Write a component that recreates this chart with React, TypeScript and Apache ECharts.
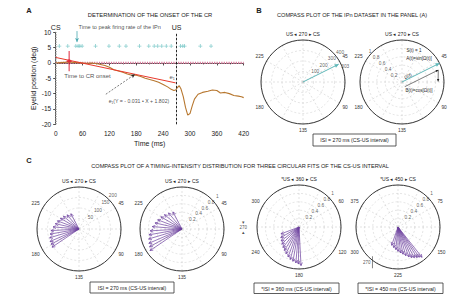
import React, { useEffect, useRef } from "react";
import * as echarts from "echarts";

const FONT = "'Liberation Sans', Arial, Helvetica, sans-serif";

// ---------------- Panel A data ----------------
const timeMin = 0;
const timeMax = 420;
const timeStep = 60;
const degMin = -20;
const degMax = 10;
const degStep = 5;
const csTime = 0;
const usTime = 270;
const eyelidTrace: [number, number][] = [
  [0, 0], [10, 0.1], [20, 0.2], [30, 0.3], [40, 0.2], [50, 0.1], [60, 0], [70, -0.1], [80, 0], [90, -0.2],
  [100, -0.5], [110, -0.8], [120, -1.4], [130, -2.2], [140, -2.6], [150, -3.0], [160, -3.6], [170, -4.0], [180, -4.0], [190, -4.4],
  [200, -5.0], [210, -5.4], [220, -5.8], [230, -6.3], [240, -7.0], [250, -7.8], [258, -8.6], [264, -9.0], [268, -8.8], [272, -8.0],
  [276, -7.4], [280, -8.5], [285, -11], [290, -14.5], [295, -17], [300, -16.5], [305, -14], [310, -11.8], [318, -10.2], [328, -9.6],
  [340, -9.2], [350, -8.8], [360, -9.0], [368, -9.8], [378, -9.6], [388, -10.0], [398, -10.6], [408, -10.8], [415, -11.0], [420, -11.3],
];
const ipnPeakTimes = [8, 27, 45, 50, 54, 59, 89, 119, 142, 157, 187, 208, 220, 228, 237, 247, 258, 279, 284, 288, 323, 347];
const ipnRowLevel = 5.5;
const baselineLevel = 0;
const fitLine: [number, number][] = [[0, 1.8], [268, -6.5]];
const crOnsetTime = 30;
const crOnsetLevel = 0.55;
const crOnsetRange = [-2.7, 3.9];
const crOnsetTimeRange = [24, 36];
const meanPeakTime = 47.6;

// ---------------- Compass data ----------------
const ringsB = [100, 200, 300, 400];
const ringsC1 = [50, 100, 150, 200];
const ringsNorm = [0.2, 0.4, 0.6, 0.8, 1];
const meanVectorRaw = 380;
const meanVectorNorm = 1;
const responseTimes = [177, 181, 185, 190, 195, 200, 206, 212, 218, 225, 232, 240, 249];
const responseRaw = [155, 152, 150, 146, 140, 134, 124, 116, 110, 102, 96, 88, 82];
const responseNorm = [0.92, 0.88, 0.86, 0.83, 0.8, 0.76, 0.71, 0.66, 0.62, 0.58, 0.54, 0.5, 0.46];
const decompositionSegments: [number, number, number, number][] = [
  [0.13, 110, 0.91, 53.8],
  [0.91, 53.8, 0.86, 67],
];

const R = 42;
const compasses = [
  { center: [303, 82], isi: 270, rMax: 400, rings: ringsB, labelAt: 39, labelOffset: [4, -4], star: false },
  { center: [402, 82], isi: 270, rMax: 1, rings: ringsNorm, labelAt: 236, labelOffset: [-2, -1], star: false },
  { center: [79, 229], isi: 270, rMax: 200, rings: ringsC1, labelAt: 34, labelOffset: [4, -4], star: false },
  { center: [182, 229], isi: 270, rMax: 1, rings: ringsNorm, labelAt: 36, labelOffset: [4, -4], star: false },
  { center: [299, 227], isi: 360, rMax: 1, rings: ringsNorm, labelAt: 45, labelOffset: [4, -4], star: true },
  { center: [398, 227], isi: 450, rMax: 1, rings: ringsNorm, labelAt: 56.25, labelOffset: [4, -4], star: true },
];

function arrowRenderer(color: string, lineWidth: number, headLen: number, filled: boolean) {
  return (_params: any, api: any) => {
    const p0 = api.coord([api.value(0), api.value(1)]);
    const p1 = api.coord([api.value(2), api.value(3)]);
    const dx = p1[0] - p0[0];
    const dy = p1[1] - p0[1];
    const len = Math.hypot(dx, dy) || 1;
    const ux = dx / len;
    const uy = dy / len;
    const bx = p1[0] - ux * headLen;
    const by = p1[1] - uy * headLen;
    const hw = headLen * 0.5;
    const l = [bx - uy * hw, by + ux * hw];
    const r = [bx + uy * hw, by - ux * hw];
    const children: any[] = [
      { type: "line", shape: { x1: p0[0], y1: p0[1], x2: p1[0], y2: p1[1] }, style: { stroke: color, lineWidth } },
    ];
    if (api.value(4) > 0) {
      children.push(
        filled
          ? { type: "polygon", shape: { points: [p1, l, r] }, style: { fill: color } }
          : { type: "polyline", shape: { points: [l, p1, r] }, style: { stroke: color, lineWidth, fill: "none" } }
      );
    }
    return { type: "group", children };
  };
}

function textEl(x: number, y: number, text: string, size: number, extra: any = {}) {
  const { rotation, ...style } = extra;
  return {
    type: "text",
    x,
    y,
    rotation: rotation || 0,
    silent: true,
    style: { text, fontSize: size, fontFamily: FONT, fill: "#222", align: "center", verticalAlign: "middle", ...style },
  };
}

function boxEl(x: number, y: number, w: number, h: number, text: string) {
  return [
    { type: "rect", shape: { x, y, width: w, height: h }, style: { fill: "#fff", stroke: "#333", lineWidth: 0.8 }, silent: true },
    textEl(x + w / 2, y + h / 2 + 0.3, text, 5.2),
  ];
}

function annotation(value: [number, number], text: string, size: number) {
  return {
    type: "scatter",
    xAxisIndex: 0,
    yAxisIndex: 0,
    clip: false,
    silent: true,
    symbolSize: 1,
    itemStyle: { color: "rgba(0,0,0,0)" },
    data: [{ value, name: text }],
    label: { show: true, position: "inside", formatter: "{b}", fontSize: size, color: "#222", fontFamily: FONT },
  };
}

function buildOption() {
  const series: any[] = [];

  // ---- Panel A ----
  series.push({
    type: "line",
    xAxisIndex: 0,
    yAxisIndex: 0,
    silent: true,
    symbol: "none",
    data: [[timeMin, baselineLevel], [timeMax, baselineLevel]],
    lineStyle: { color: "#d9789a", width: 2.2, type: [1.2, 1.2] },
    markLine: {
      silent: true,
      symbol: ["none", "none"],
      data: [
        {
          xAxis: csTime,
          lineStyle: { color: "#9a9a9a", type: [1.2, 1.2], width: 1.5 },
          label: { formatter: "CS", position: "end", fontSize: 7, color: "#222", distance: 1, fontFamily: FONT },
        },
        {
          xAxis: usTime,
          lineStyle: { color: "#111", type: [2.5, 1.5], width: 0.9 },
          label: { formatter: "US", position: "end", fontSize: 7, color: "#222", distance: 1, fontFamily: FONT },
        },
      ],
    },
  });
  series.push({
    type: "scatter",
    xAxisIndex: 0,
    yAxisIndex: 0,
    silent: true,
    symbol: "path://M4,0 L6,0 L6,4 L10,4 L10,6 L6,6 L6,10 L4,10 L4,6 L0,6 L0,4 L4,4 Z",
    symbolSize: 4,
    itemStyle: { color: "#6cc2c2" },
    data: ipnPeakTimes.map((t) => [t, ipnRowLevel]),
  });
  series.push({
    type: "line",
    xAxisIndex: 0,
    yAxisIndex: 0,
    silent: true,
    symbol: "none",
    data: eyelidTrace,
    lineStyle: { color: "#b7772f", width: 1.1 },
  });
  series.push({
    type: "line",
    xAxisIndex: 0,
    yAxisIndex: 0,
    silent: true,
    symbol: "none",
    data: fitLine,
    lineStyle: { color: "#e8392c", width: 1 },
  });
  series.push({
    type: "line",
    xAxisIndex: 0,
    yAxisIndex: 0,
    silent: true,
    symbol: "none",
    data: [[crOnsetTime, crOnsetRange[0]], [crOnsetTime, crOnsetRange[1]]],
    lineStyle: { color: "#e0263a", width: 1 },
  });
  series.push({
    type: "line",
    xAxisIndex: 0,
    yAxisIndex: 0,
    silent: true,
    symbol: "none",
    data: [[crOnsetTimeRange[0], crOnsetLevel], [crOnsetTimeRange[1], crOnsetLevel]],
    lineStyle: { color: "#e0263a", width: 1 },
  });
  series.push({
    type: "scatter",
    xAxisIndex: 0,
    yAxisIndex: 0,
    silent: true,
    symbolSize: 4,
    itemStyle: { color: "#e0263a" },
    data: [[crOnsetTime, crOnsetLevel]],
  });
  // arrow to the peak firing marks
  series.push({
    type: "line",
    xAxisIndex: 0,
    yAxisIndex: 0,
    silent: true,
    clip: false,
    data: [
      { value: [meanPeakTime, 10.4], symbol: "none" },
      { value: [meanPeakTime, 6.8], symbol: "arrow", symbolSize: [3, 4], symbolRotate: 180 },
    ],
    itemStyle: { color: "#4aa8b0" },
    lineStyle: { color: "#4aa8b0", width: 0.8 },
  });
  // dashed arrow to the fit line
  series.push({
    type: "line",
    xAxisIndex: 0,
    yAxisIndex: 0,
    silent: true,
    data: [
      { value: [112, -10.2], symbol: "none" },
      { value: [177, -3.7], symbol: "arrow", symbolSize: [3, 4], symbolRotate: -55 },
    ],
    itemStyle: { color: "#222" },
    lineStyle: { color: "#222", width: 0.6, type: [2, 1.5] },
  });
  series.push(annotation([143, 11.6], "Time to peak firing rate of the IPn", 5.6));
  series.push(annotation([71, -4.3], "Time to CR onset", 6));
  series.push(annotation([260, -4.7], "e₁", 6));
  series.push(annotation([186, -12.3], "e₁(Y = - 0.031 • X + 1.802)", 5.2));

  // ---- Compasses ----
  const polar = compasses.map((c) => ({ center: c.center, radius: R }));
  const angleAxis = compasses.map((c, i) => {
    const labelStep = c.isi / 6;
    return {
      polarIndex: i,
      type: "value",
      min: 0,
      max: c.isi,
      interval: c.isi / 12,
      startAngle: 90,
      clockwise: true,
      axisLine: { show: true, lineStyle: { color: "#222", width: 0.9 } },
      axisTick: { show: false },
      splitLine: { show: true, lineStyle: { color: "#c4c4c4", width: 0.5, type: [2, 2] } },
      axisLabel: {
        show: true,
        fontSize: 4.8,
        color: "#333",
        margin: 3.5,
        fontFamily: FONT,
        formatter: (v: number) => {
          const val = Math.round(v * 1000) / 1000;
          if (val === 0) return `{top|${c.star ? "*" : ""}US ◂ ${c.isi} ▸ CS}`;
          if (val >= c.isi) return "";
          return Math.abs(val % labelStep) < 1e-6 ? String(val) : "";
        },
        rich: { top: { fontSize: 5, color: "#222", fontFamily: FONT } },
      },
    };
  });
  const radiusAxis = compasses.map((c, i) => ({
    polarIndex: i,
    type: "value",
    min: 0,
    max: c.rMax,
    interval: c.rMax / c.rings.length,
    axisLine: { show: false },
    axisTick: { show: false },
    axisLabel: { show: false },
    splitLine: { show: true, lineStyle: { color: "#c8c8c8", width: 0.5, type: [2, 2] } },
  }));

  compasses.forEach((c, i) => {
    series.push({
      type: "scatter",
      coordinateSystem: "polar",
      polarIndex: i,
      silent: true,
      clip: false,
      symbolSize: 1,
      itemStyle: { color: "rgba(0,0,0,0)" },
      data: c.rings.map((v) => [v, c.labelAt]),
      label: {
        show: true,
        position: "inside",
        offset: c.labelOffset,
        formatter: (p: any) => String(p.value[0]),
        fontSize: 4.8,
        color: "#333",
        fontFamily: FONT,
      },
    });
  });

  const purple = "#6b3f9e";
  const teal = "#5fb7b8";
  const arrowSeries = (idx: number, data: number[][], color: string, lw: number, head: number, filled: boolean) => ({
    type: "custom",
    coordinateSystem: "polar",
    polarIndex: idx,
    silent: true,
    clip: false,
    renderItem: arrowRenderer(color, lw, head, filled),
    data,
  });
  series.push(arrowSeries(0, [[0, meanPeakTime, meanVectorRaw, meanPeakTime, 1]], teal, 1, 4, true));
  series.push(arrowSeries(1, [[0, meanPeakTime, meanVectorNorm, meanPeakTime, 1]], teal, 1, 4, true));
  series.push(arrowSeries(1, decompositionSegments.map((s) => [...s, 1]), "#222", 0.6, 2.5, true));
  series.push(arrowSeries(2, responseTimes.map((t, k) => [0, t, responseRaw[k], t, 1]), purple, 0.7, 3, false));
  [3, 4, 5].forEach((idx) => {
    series.push(arrowSeries(idx, responseTimes.map((t, k) => [0, t, responseNorm[k], t, 1]), purple, 0.7, 3, false));
  });

  // B-left vector value
  series.push({
    type: "scatter",
    coordinateSystem: "polar",
    polarIndex: 0,
    silent: true,
    clip: false,
    symbolSize: 1,
    itemStyle: { color: "rgba(0,0,0,0)" },
    data: [[430, 52]],
    label: { show: true, position: "inside", formatter: "303", fontSize: 4.8, color: "#333", fontFamily: FONT },
  });
  // US marker at 270 ms for longer ISIs
  series.push({
    type: "scatter",
    coordinateSystem: "polar",
    polarIndex: 4,
    silent: true,
    clip: false,
    symbolSize: 1,
    itemStyle: { color: "rgba(0,0,0,0)" },
    data: [[1.33, usTime]],
    label: { show: true, position: "inside", formatter: "▾\n270\n▴", fontSize: 4.5, lineHeight: 5, color: "#222", fontFamily: FONT },
  });
  series.push({
    type: "scatter",
    coordinateSystem: "polar",
    polarIndex: 5,
    silent: true,
    clip: false,
    symbol: "rect",
    symbolSize: [0.7, 12],
    itemStyle: { color: "#222" },
    data: [[1.04, usTime]],
    label: { show: true, position: "left", distance: 1.5, formatter: "270", fontSize: 4.5, color: "#222", fontFamily: FONT },
  });

  const graphic: any[] = [
    textEl(29, 10, "A", 7.5, { fontWeight: "bold" }),
    textEl(150, 15, "DETERMINATION OF THE ONSET OF THE CR", 5.8),
    textEl(259, 10, "B", 7.5, { fontWeight: "bold" }),
    textEl(352, 15, "COMPASS PLOT OF THE IPn DATASET IN THE PANEL (A)", 5.6),
    textEl(29, 160, "C", 7.5, { fontWeight: "bold" }),
    textEl(240, 166, "COMPASS PLOT OF A TIMING-INTENSITY DISTRIBUTION FOR THREE CIRCULAR FITS OF THE CS-US INTERVAL", 5.6),
    ...boxEl(313, 134, 83, 12, "ISI = 270 ms (CS-US interval)"),
    ...boxEl(90, 282, 84, 11, "ISI = 270 ms (CS-US interval)"),
    ...boxEl(254, 283, 85, 10.5, "*ISI = 360 ms (CS-US interval)"),
    ...boxEl(358, 283, 85, 10.5, "*ISI = 450 ms (CS-US interval)"),
    textEl(414, 50, "S(t) = 1", 4.5),
    textEl(419, 58, "A(t)=sin[Ω(t)]", 4.5),
    textEl(408, 76, "Ω(t)", 4.5, { rotation: 0.5 }),
    textEl(419, 90, "B(t)=cos[Ω(t)]", 4.5),
  ];

  return {
    animation: false,
    backgroundColor: "#fff",
    textStyle: { fontFamily: FONT },
    grid: [{ left: 55.7, top: 32.3, width: 188, height: 92 }],
    xAxis: [
      {
        gridIndex: 0,
        type: "value",
        min: timeMin,
        max: timeMax,
        interval: timeStep,
        offset: 3,
        axisLine: { show: true, lineStyle: { color: "#222", width: 0.8 } },
        axisTick: { show: true, length: 2.5, lineStyle: { color: "#222", width: 0.8 } },
        minorTick: { show: true, splitNumber: 2, length: 1.5, lineStyle: { color: "#222", width: 0.6 } },
        splitLine: { show: false },
        axisLabel: { fontSize: 6.5, color: "#222", margin: 3, fontFamily: FONT },
        name: "Time (ms)",
        nameLocation: "middle",
        nameGap: 13,
        nameTextStyle: { fontSize: 7, color: "#222", fontFamily: FONT },
      },
    ],
    yAxis: [
      {
        gridIndex: 0,
        type: "value",
        min: degMin,
        max: degMax,
        interval: degStep,
        offset: 1.5,
        axisLine: { show: true, lineStyle: { color: "#222", width: 0.8 } },
        axisTick: { show: true, length: 2.5, lineStyle: { color: "#222", width: 0.8 } },
        splitLine: { show: false },
        axisLabel: { fontSize: 6.5, color: "#222", margin: 3, fontFamily: FONT },
        name: "Eyelid position (deg)",
        nameLocation: "middle",
        nameGap: 17,
        nameRotate: 90,
        nameTextStyle: { fontSize: 7, color: "#222", fontFamily: FONT },
      },
    ],
    polar,
    angleAxis,
    radiusAxis,
    series,
    graphic,
  };
}

export default function App() {
  const ref = useRef<HTMLDivElement>(null);
  useEffect(() => {
    if (!ref.current) return;
    const chart = echarts.init(ref.current, null, { renderer: "svg" });
    chart.setOption(buildOption() as any);
    return () => chart.dispose();
  }, []);
  return (
    <div
      ref={ref}
      style={{ position: "absolute", left: 0, top: 0, width: 474, height: 303, background: "#fff" }}
    />
  );
}
